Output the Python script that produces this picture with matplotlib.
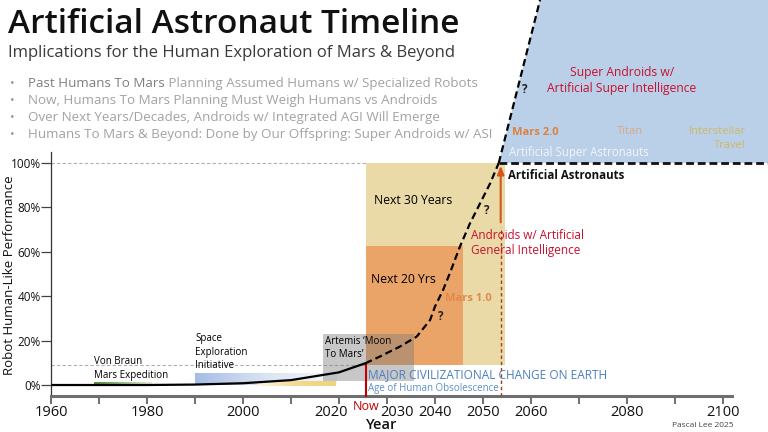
import matplotlib
matplotlib.use("Agg")
import matplotlib.pyplot as plt
import numpy as np
from matplotlib.colors import LinearSegmentedColormap
from matplotlib.transforms import ScaledTranslation

plt.rcParams['font.family'] = ['Open Sans', 'DejaVu Sans']

# ---------------- data ----------------
hist_years = [1960, 1970, 1980, 1990, 2000, 2010, 2020, 2025.5]
hist_perf = [0, 0, 0, 0.2, 0.8, 2.2, 5.7, 9.8]
proj_years = [2025.5, 2028.5, 2032.7, 2036.2, 2039.0, 2040.0, 2041.7, 2043.1, 2045.2,
              2047.3, 2049.4, 2051.5, 2053.3]
proj_perf = [9.8, 12.8, 17.3, 21.8, 29.3, 35.3, 42.8, 50.3, 62.3, 72.8, 81.8, 90.8, 100]
super_years = [2053.3, 2061.9]
super_perf = [100, 173.4]

now_year = 2025.6
agi_year = 2053.7
agi_arrow = [72, 100]

# (start, end, bottom, top)
next30 = (2025.6, 2054.6, 9, 100)
next20 = (2025.6, 2045.8, 9, 62.7)
artemis = (2016.6, 2035.7, 1.8, 22.8)
sei_blue = (1990, 2019.4, 0, 5.0)
sei_yellow = (2003, 2019.4, -0.4, 1.8)
vonbraun = (1969, 1981, 0, 1.3)

major_ticks = [1960, 1980, 2000, 2020, 2030, 2040, 2050, 2060, 2080, 2100]
minor_ticks = [1970, 1990, 2010, 2070, 2090]
y_ticks = [0, 20, 40, 60, 80, 100]

bullets = [
    ("Past Humans To Mars", " Planning Assumed Humans w/ Specialized Robots"),
    ("", "Now, Humans To Mars Planning Must Weigh Humans vs Androids"),
    ("", "Over Next Years/Decades, Androids w/ Integrated AGI Will Emerge"),
    ("", "Humans To Mars & Beyond: Done by Our Offspring: Super Androids w/ ASI"),
]

# ---------------- figure ----------------
W, H = 768, 432
fig = plt.figure(figsize=(7.68, 4.32), dpi=100)
fig.patch.set_facecolor('white')

ax_left, ax_right, ax_bottom = 51, 768, 396
ax = fig.add_axes([ax_left / W, (H - ax_bottom) / H, (ax_right - ax_left) / W, ax_bottom / H])
XMIN, XMAX = 1960, 2109.4
YMIN, YMAX = -4.95, 173.4
ax.set_xlim(XMIN, XMAX)
ax.set_ylim(YMIN, YMAX)
ax.set_facecolor('none')

for s in ['top', 'right']:
    ax.spines[s].set_visible(False)
ax.spines['left'].set_bounds(YMIN, 105)
ax.spines['left'].set_color('#333333')
ax.spines['left'].set_linewidth(0.9)
ax.spines['bottom'].set_bounds(XMIN, 2102)
ax.spines['bottom'].set_color('#6e6e6e')
ax.spines['bottom'].set_linewidth(2.2)

ax.set_xticks(major_ticks)
ax.set_xticklabels([str(t) for t in major_ticks])
ax.set_xticks(minor_ticks, minor=True)
ax.tick_params(axis='x', which='both', direction='out', length=6, width=1.4,
               color='#6e6e6e', labelsize=10.5, pad=0.5, labelcolor='#111111')
labs = ax.get_xticklabels()
labs[3].set_transform(labs[3].get_transform() + ScaledTranslation(-8 / 100, 0, fig.dpi_scale_trans))
labs[4].set_transform(labs[4].get_transform() + ScaledTranslation(10 / 100, 0, fig.dpi_scale_trans))

ax.set_yticks(y_ticks)
ax.set_yticklabels([f"{t}%" for t in y_ticks])
ax.tick_params(axis='y', direction='out', length=7, width=0.9, color='#444444',
               labelsize=8.5, pad=0.5, labelcolor='#111111')

# blue super-intelligence region
ax.fill(super_years + [XMAX, XMAX], super_perf + [super_perf[-1], super_perf[0]],
        color='#b9d0e8', zorder=1, lw=0)

# reference dashed lines
ax.plot([XMIN, next30[0]], [100, 100], color='#b0b0b0', lw=0.8, ls=(0, (3, 2)), zorder=1)
ax.plot([XMIN, next30[0]], [next30[2], next30[2]], color='#b0b0b0', lw=0.8, ls=(0, (3, 2)), zorder=1)

# rectangles
ax.fill_between([next30[0], next30[1]], next30[2], next30[3], color='#e9daa8', lw=0, zorder=2)
ax.fill_between([next20[0], next20[1]], next20[2], next20[3], color='#eba468', lw=0, zorder=3)
ax.fill_between([artemis[0], artemis[1]], artemis[2], artemis[3], color='#7a7a7a', alpha=0.42, lw=0, zorder=4)

# gradient bars
cm_blue = LinearSegmentedColormap.from_list('b', ['#a4bde6', '#dbe4f3', '#f6f8fb'])
cm_yel = LinearSegmentedColormap.from_list('y', ['#fbf6e6', '#f3dc8e', '#efd27a'])
cm_grn = LinearSegmentedColormap.from_list('g', ['#4c8a35', '#9cc088', '#e4eedc'])
grad = np.linspace(0, 1, 256).reshape(1, -1)
ax.imshow(grad, cmap=cm_blue, extent=[sei_blue[0], sei_blue[1], sei_blue[2], sei_blue[3]],
          aspect='auto', zorder=2, interpolation='bilinear')
ax.imshow(grad, cmap=cm_yel, extent=[sei_yellow[0], sei_yellow[1], sei_yellow[2], sei_yellow[3]],
          aspect='auto', zorder=2, interpolation='bilinear')
ax.imshow(grad, cmap=cm_grn, extent=[vonbraun[0], vonbraun[1], vonbraun[2], vonbraun[3]],
          aspect='auto', zorder=2, interpolation='bilinear')
ax.set_xlim(XMIN, XMAX)
ax.set_ylim(YMIN, YMAX)

# vertical lines
ax.plot([now_year, now_year], [YMIN, next30[2]], color='#c00000', lw=1.5, zorder=6, clip_on=False)
ax.plot([agi_year, agi_year], [YMIN, agi_arrow[0] - 1], color='#a83a28', lw=1.0,
        ls=(0, (2.5, 2)), zorder=6)
ax.annotate('', xy=(agi_year, agi_arrow[1]), xytext=(agi_year, agi_arrow[0]),
            arrowprops=dict(arrowstyle='-|>,head_length=0.5,head_width=0.2', color='#d2581e', lw=1.5),
            zorder=7)

# curves
ax.plot(hist_years, hist_perf, color='black', lw=1.6, zorder=8, solid_capstyle='round')
ax.plot(proj_years, proj_perf, color='black', lw=1.6, ls=(0, (3.2, 1.8)), zorder=8)
ax.plot(super_years, super_perf, color='black', lw=1.6, ls=(0, (3.2, 1.8)), zorder=8, clip_on=False)
ax.plot([super_years[0], XMAX], [100, 100], color='#111111', lw=2.0, ls=(0, (2.8, 1.4)), zorder=8)

# ---------------- annotation text ----------------
def X(px):
    return 1960 + (px - 51) / 4.8

def Y(py):
    return (385 - py) / 2.22

red = '#c8102e'
ax.text(X(94), Y(368.5), "Von Braun\nMars Expedition", fontsize=7, va='center', ha='left',
        linespacing=1.35, zorder=9)
ax.text(X(195), Y(352), "Space\nExploration\nInitiative", fontsize=7, va='center', ha='left',
        linespacing=1.3, zorder=9)
ax.text(X(325), Y(348), "Artemis \u2018Moon\nTo Mars\u2019", fontsize=7, va='center', ha='left',
        linespacing=1.3, zorder=9)
ax.text(X(374), Y(201), "Next 30 Years", fontsize=8.8, va='center', ha='left', zorder=9)
ax.text(X(371), Y(280), "Next 20 Yrs", fontsize=8.8, va='center', ha='left', zorder=9)
ax.text(X(445), Y(299), "Mars 1.0", fontsize=8, va='center', ha='left', color='#e2894a',
        fontweight='bold', zorder=9)
for (px, py) in [(441, 317), (487, 211), (525, 90)]:
    ax.text(X(px), Y(py), "?", fontsize=8.5, va='center', ha='center', fontweight='bold',
            color='#222222', zorder=9)
ax.text(X(471), Y(243), "Androids w/ Artificial\nGeneral Intelligence", fontsize=8.5, va='center',
        ha='left', color=red, linespacing=1.25, zorder=9)
ax.text(X(508), Y(176), "Artificial Astronauts", fontsize=8.3, va='center', ha='left',
        fontweight='bold', color='#111111', zorder=9)
ax.text(X(509), Y(153), "Artificial Super Astronauts", fontsize=8.3, va='center', ha='left',
        color='#f2f5f9', zorder=9)
ax.text(X(512), Y(133), "Mars 2.0", fontsize=8, va='center', ha='left', color='#e0803f',
        fontweight='bold', zorder=9)
ax.text(X(617), Y(132), "Titan", fontsize=8, va='center', ha='left', color='#d8a888', zorder=9)
ax.text(X(746), Y(138.5), "Interstellar\nTravel", fontsize=8, va='center', ha='right',
        multialignment='right', color='#cfb868', linespacing=1.3, zorder=9, clip_on=False)
ax.text(X(622), Y(81), "Super Androids w/\nArtificial Super Intelligence", fontsize=8.7,
        va='center', ha='center', color=red, linespacing=1.3, zorder=9)
ax.text(X(368), Y(375), "MAJOR CIVILIZATIONAL CHANGE ON EARTH", fontsize=8.6, va='center',
        ha='left', color='#4a7fc0', zorder=9)
ax.text(X(368), Y(388), "Age of Human Obsolescence", fontsize=7, va='center', ha='left',
        color='#5a8fc8', zorder=9, clip_on=False)
ax.text(X(366), Y(406), "Now", fontsize=9, va='center', ha='center', color='#c00000',
        zorder=9, clip_on=False)
ax.text(X(382), Y(425), "Year", fontsize=10.5, va='center', ha='center', fontweight='semibold',
        color='#111111', clip_on=False)
ax.text(X(703), Y(425), "Pascal Lee 2025", fontsize=6, va='center', ha='center',
        color='#444444', clip_on=False)

fig.text(10 / W, 1 - 275 / H, "Robot Human-Like Performance", fontsize=9.5, rotation=90,
         va='center', ha='center', color='#111111')

# ---------------- header text ----------------
fig.text(8 / W, 1 - 33 / H, "Artificial Astronaut Timeline", fontsize=24, fontweight='semibold',
         va='baseline', ha='left', color='#111111')
fig.text(8 / W, 1 - 57 / H, "Implications for the Human Exploration of Mars & Beyond", fontsize=12,
         va='baseline', ha='left', color='#3a3a3a')
base = [87, 104, 121, 138]
for (dark, rest), b in zip(bullets, base):
    fig.text(10 / W, 1 - b / H, "\u2022", fontsize=9, va='baseline', ha='left', color='#9a9a9a')
    t1 = fig.text(28 / W, 1 - b / H, dark, fontsize=9.6, va='baseline', ha='left', color='#7e7e7e')
    if dark:
        fig.canvas.draw()
        bb = t1.get_window_extent()
        x2 = bb.x1 / fig.dpi / 7.68
        fig.text(x2, 1 - b / H, rest, fontsize=9.6, va='baseline', ha='left', color='#a2a2a2')
    else:
        t1.set_text(rest)
        t1.set_color('#a2a2a2')

fig.savefig("out.png", dpi=100, facecolor='white')
